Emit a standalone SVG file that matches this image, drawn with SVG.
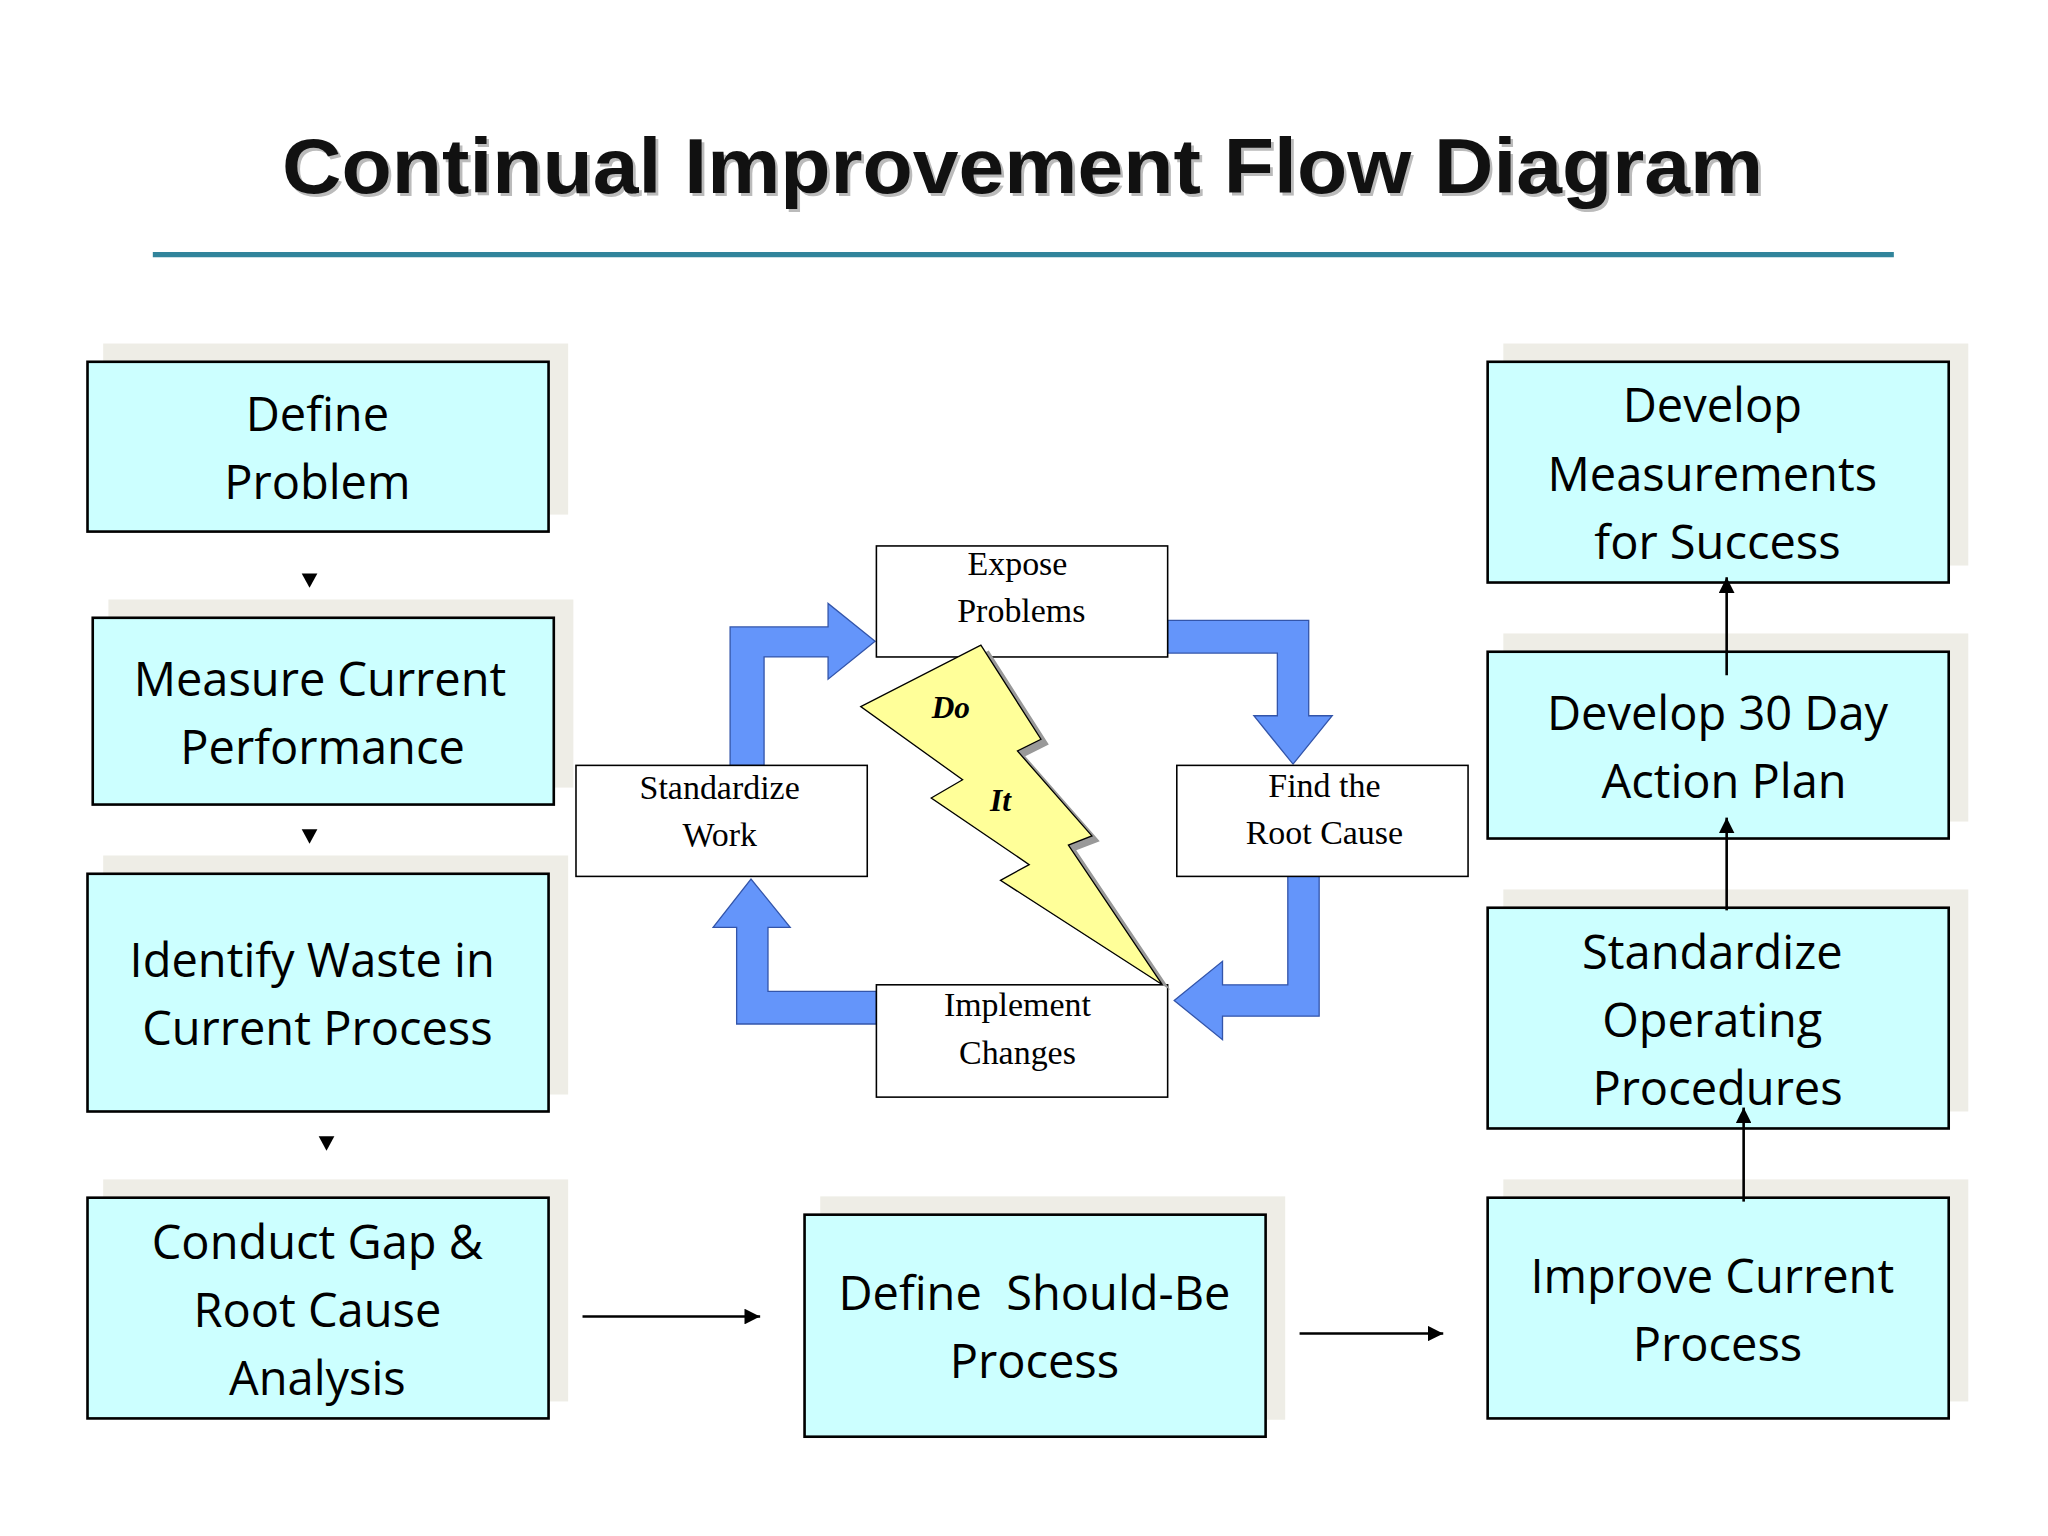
<svg xmlns="http://www.w3.org/2000/svg" width="2048" height="1536" viewBox="0 0 2048 1536">
<defs>
<style>
.box{fill:#CCFFFF;stroke:#000;stroke-width:2}
.sh{fill:#EEEDE6}
.t{font-family:"Open Sans","Liberation Sans",sans-serif;font-size:36px;fill:#000;text-anchor:middle}
.c{fill:#fff;stroke:#000;stroke-width:1.2}
.ct{font-family:"Liberation Serif",serif;font-size:26px;fill:#000;text-anchor:middle}
.blue{fill:#6495FA;stroke:#3355aa;stroke-width:1}
.ln{stroke:#000;stroke-width:2;fill:none}
</style>
<marker id="ah" viewBox="0 0 10 10" refX="10" refY="5" markerWidth="6" markerHeight="6" orient="auto"><path d="M0,0L10,5L0,10z" fill="#000"/></marker>
</defs>
<rect width="2048" height="1536" fill="#fff"/>
<g transform="scale(1.3061)">
<g id="title">
<text x="785" y="150" font-family="Liberation Sans,Arial,sans-serif" font-weight="bold" font-size="60" fill="#bbb" text-anchor="middle" textLength="1134" lengthAdjust="spacingAndGlyphs">Continual Improvement Flow Diagram</text>
<text x="783" y="148" font-family="Liberation Sans,Arial,sans-serif" font-weight="bold" font-size="60" fill="#111" text-anchor="middle" textLength="1134" lengthAdjust="spacingAndGlyphs">Continual Improvement Flow Diagram</text>
<line x1="117" y1="195" x2="1450" y2="195" stroke="#31849B" stroke-width="4"/>
</g>
<g id="n1"><rect class="sh" x="79" y="263" width="356" height="131"/><rect class="box" x="67" y="277" width="353" height="130"/><text class="t" x="243" y="330">Define</text><text class="t" x="243" y="382">Problem</text></g>
<g id="n2"><rect class="sh" x="83" y="459" width="356" height="144"/><rect class="box" x="71" y="473" width="353" height="143"/><text class="t" x="245" y="533">Measure Current</text><text class="t" x="247" y="585">Performance</text></g>
<g id="n3"><rect class="sh" x="79" y="655" width="356" height="183"/><rect class="box" x="67" y="669" width="353" height="182"/><text class="t" x="239" y="748">Identify Waste in</text><text class="t" x="243" y="800">Current Process</text></g>
<g id="n4"><rect class="sh" x="79" y="903" width="356" height="170"/><rect class="box" x="67" y="917" width="353" height="169"/><text class="t" x="243" y="964">Conduct Gap &amp;</text><text class="t" x="243" y="1016">Root Cause</text><text class="t" x="243" y="1068">Analysis</text></g>
<g id="n5"><rect class="sh" x="628" y="916" width="356" height="171"/><rect class="box" x="616" y="930" width="353" height="170"/><text class="t" x="792" y="1003" xml:space="preserve">Define  Should-Be</text><text class="t" x="792" y="1055">Process</text></g>
<g id="n6"><rect class="sh" x="1151" y="263" width="356" height="170"/><rect class="box" x="1139" y="277" width="353" height="169"/><text class="t" x="1311" y="323">Develop</text><text class="t" x="1311" y="376">Measurements</text><text class="t" x="1315" y="428">for Success</text></g>
<g id="n7"><rect class="sh" x="1151" y="485" width="356" height="144"/><rect class="box" x="1139" y="499" width="353" height="143"/><text class="t" x="1315" y="559">Develop 30 Day</text><text class="t" x="1320" y="611">Action Plan</text></g>
<g id="n8"><rect class="sh" x="1151" y="681" width="356" height="170"/><rect class="box" x="1139" y="695" width="353" height="169"/><text class="t" x="1311" y="742">Standardize</text><text class="t" x="1311" y="794">Operating</text><text class="t" x="1315" y="846">Procedures</text></g>
<g id="n9"><rect class="sh" x="1151" y="903" width="356" height="170"/><rect class="box" x="1139" y="917" width="353" height="169"/><text class="t" x="1311" y="990">Improve Current</text><text class="t" x="1315" y="1042">Process</text></g>
<g id="cycle">
<path class="blue" d="M559,586V480H634V462L670,491L634,520V503H585V586Z"/>
<path class="blue" d="M894,475H1002V548H1020L990,585L960,548H978V500H894Z"/>
<path class="blue" d="M1010,671V778H936V796L899,766L936,736V754H986V671Z"/>
<path class="blue" d="M671,759V784H564V710H546L575,673L605,710H588V759Z"/>
<g id="e1"><rect class="c" x="671" y="418" width="223" height="85"/><text class="ct" x="779" y="440">Expose</text><text class="ct" x="782" y="476">Problems</text></g>
<g id="e2"><rect class="c" x="441" y="586" width="223" height="85"/><text class="ct" x="551" y="612">Standardize</text><text class="ct" x="551" y="648">Work</text></g>
<g id="e3"><rect class="c" x="901" y="586" width="223" height="85"/><text class="ct" x="1014" y="610">Find the</text><text class="ct" x="1014" y="646">Root Cause</text></g>
<g id="e4"><rect class="c" x="671" y="754" width="223" height="86"/><text class="ct" x="779" y="778">Implement</text><text class="ct" x="779" y="815">Changes</text></g>
<g id="bolt">
<polygon points="757,498 803,570 785,579 842,644 824,651 896,758 772,678 794,666 719,615 743,601 665,545" fill="#999"/>
<polygon points="751,494 797,566 779,575 836,640 818,647 890,754 766,674 788,662 713,611 737,597 659,541" fill="#FFFF99" stroke="#000" stroke-width="1"/>
<text x="728" y="550" font-family="Liberation Serif,serif" font-weight="bold" font-style="italic" font-size="24" text-anchor="middle">Do</text>
<text x="766" y="621" font-family="Liberation Serif,serif" font-weight="bold" font-style="italic" font-size="24" text-anchor="middle">It</text>
</g>
</g>
<g id="connectors">
<path d="M231,439H243L237,450Z"/>
<path d="M231,635H243L237,646Z"/>
<path d="M244,870H256L250,881Z"/>
<line class="ln" x1="446" y1="1008" x2="582" y2="1008" marker-end="url(#ah)"/>
<line class="ln" x1="995" y1="1021" x2="1105" y2="1021" marker-end="url(#ah)"/>
<line class="ln" x1="1335" y1="920" x2="1335" y2="848" marker-end="url(#ah)"/>
<line class="ln" x1="1322" y1="697" x2="1322" y2="626" marker-end="url(#ah)"/>
<line class="ln" x1="1322" y1="517" x2="1322" y2="442" marker-end="url(#ah)"/>
</g>
</g>
</svg>
